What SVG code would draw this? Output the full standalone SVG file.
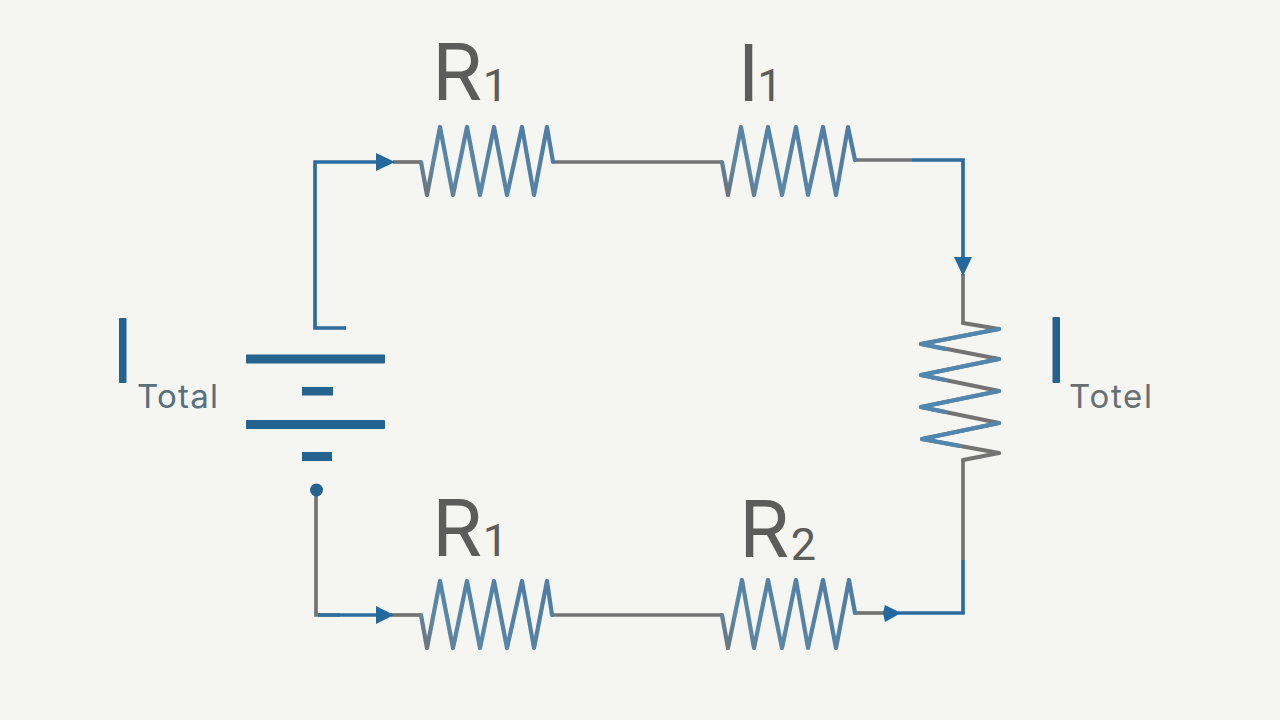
<svg xmlns="http://www.w3.org/2000/svg" width="1280" height="720" viewBox="0 0 1280 720">
<style>
.w{fill:none;stroke-width:3.7;stroke-linejoin:miter}
.b{stroke:#2c6c9f}
.g{stroke:#737372}
.z{fill:none;stroke-width:4.2;stroke-linejoin:round;stroke-linecap:round}
.zb{fill:none;stroke:#4f87b0;stroke-width:4.2;stroke-linecap:round}
.bar{fill:#24628f}
.arr{fill:#23699f}
.big{font-family:"Inter","Liberation Sans",Arial,sans-serif;font-size:79px;fill:#5c5c5a}
.sub{font-family:"Roboto","Liberation Sans",sans-serif;font-weight:400;font-size:45px}
.lbl{font-family:"Inter","Liberation Sans",Arial,sans-serif;font-weight:400;font-size:33px;fill:#55707f}
</style>
<defs>
<linearGradient id="rg" x1="0" y1="1" x2="1" y2="0.4">
<stop offset="0" stop-color="#6d7378"/><stop offset="0.3" stop-color="#5a88a8"/><stop offset="1" stop-color="#4f7da6"/>
</linearGradient>
</defs>
<rect width="1280" height="720" fill="#f5f5f1"/>
<g id="connectors">
<path class="w b" d="M346 328H315V162H380"/>
<path class="w g" d="M393 162H421"/>
<path class="w g" d="M553 162H722"/>
<path class="w g" d="M855 160H912"/>
<path class="w b" d="M912 160H963V258"/>
<path class="w g" d="M963 274V323"/>
<path class="w g" d="M963 460V560"/>
<path class="w b" d="M963 560V613H898"/>
<path class="w g" d="M855 613H886"/>
<path class="w g" d="M552 615H722"/>
<path class="w g" d="M316 490V615H340"/>
<path class="w b" d="M318 615H378"/>
<path class="w g" d="M391 615H421"/>
<path class="arr" d="M376 153L395 162L376 171Z"/>
<path class="arr" d="M954 257H972L963 276Z"/>
<path class="arr" d="M376 606L394 615L376 624Z"/>
<path class="arr" d="M885 605L901 613L885 622L883 613Z"/>
</g>
<g id="resistor-r1-top">
<polyline class="z" stroke="url(#rg)" points="421,162 427,195 440,127 453,195 467,127 480,195 494,127 507,195 522,127 534,195 547,127 553,162"/>
<text class="big" x="432" y="100">R<tspan class="sub" dx="0" dy="1">1</tspan></text>
</g>
<g id="resistor-i1-top">
<polyline class="z" stroke="url(#rg)" points="722,162 728,195 741,127 754,195 768,127 782,195 796,127 808,195 823,127 836,195 848,127 855,160"/>
<text class="big" x="738" y="101">I<tspan class="sub" dx="-2">1</tspan></text>
</g>
<g id="resistor-right">
<polyline class="z g" points="963,323 999,329 921,344 999,359 921,375 999,391 921,407 999,423 922,439 999,453 963,460"/>
<path class="zb" d="M999 329L921 344M999 359L921 375M999 391L921 407M999 423L922 439M922 439L960 446M921 344L945 349M921 375L945 380M921 407L945 412"/>
</g>
<g id="resistor-r1-bottom">
<polyline class="z" stroke="url(#rg)" points="421,615 427,648 440,581 453,648 467,581 480,648 494,581 507,648 522,581 534,648 547,581 552,615"/>
<text class="big" x="432" y="556">R<tspan class="sub" dx="0">1</tspan></text>
</g>
<g id="resistor-r2-bottom">
<polyline class="z" stroke="url(#rg)" points="722,615 728,648 742,580 754,648 768,580 782,648 796,580 808,648 823,580 836,648 849,580 855,613"/>
<text class="big" x="739" y="557">R<tspan class="sub" dx="1" dy="3">2</tspan></text>
</g>
<g id="battery">
<rect class="bar" x="246" y="354.500" width="139" height="9" rx="1"/>
<rect class="bar" x="302" y="387" width="31" height="8.500"/>
<rect class="bar" x="246" y="420" width="139" height="9" rx="1"/>
<rect class="bar" x="302" y="452" width="30" height="9"/>
<circle cx="316.500" cy="490" r="6.500" fill="#24628f"/>
</g>
<g id="label-total-left">
<rect class="bar" x="119" y="318" width="7.500" height="65" rx="1"/>
<text class="lbl" x="137" y="408" textLength="81" lengthAdjust="spacing">Total</text>
</g>
<g id="label-total-right">
<rect class="bar" x="1052.500" y="317" width="7.500" height="66" rx="1"/>
<text class="lbl" x="1069" y="408" textLength="83" lengthAdjust="spacing" style="fill:#666f74">Totel</text>
</g>
</svg>
